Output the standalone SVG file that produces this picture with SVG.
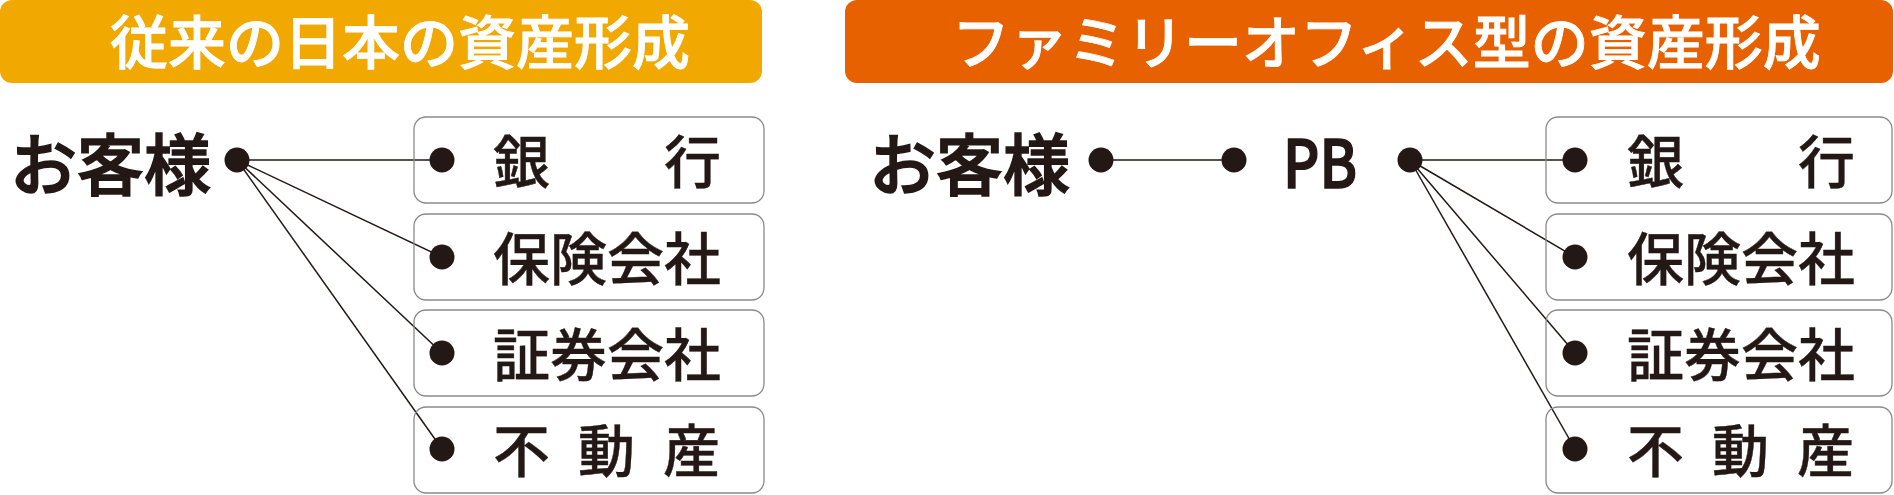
<svg xmlns="http://www.w3.org/2000/svg" width="1894" height="495" viewBox="0 0 1894 495">
<style>
.t{font-family:"Noto Sans CJK JP","Noto Sans",sans-serif;fill:#231815;stroke:#231815;stroke-width:0.4;font-weight:500}
.h{font-family:"Noto Sans CJK JP","Noto Sans",sans-serif;fill:#ffffff;stroke:#ffffff;stroke-width:0.8;font-size:58px;font-weight:500}
.big{font-size:67px;stroke-width:1.6}
.bx{font-size:57px}
.box{fill:none;stroke:#8a8a8a;stroke-width:1.3}
.dot{fill:#231815}
.ln{stroke:#231815;stroke-width:1.5;fill:none}
</style>
<rect width="1894" height="495" fill="#ffffff"/>
<g id="header-left">
<rect x="0" y="0" width="762" height="83" rx="12" fill="#F1A800"/>
<text class="h" x="110" y="64">従来の日本の資産形成</text>
</g>
<g id="header-right">
<rect x="845" y="0" width="1048" height="83" rx="12" fill="#E86100"/>
<text class="h" x="952" y="64">ファミリーオフィス型の資産形成</text>
</g>
<g id="connectors">
<line class="ln" x1="237" y1="160" x2="442" y2="160"/>
<line class="ln" x1="237" y1="160" x2="442" y2="257"/>
<line class="ln" x1="237" y1="160" x2="442" y2="353"/>
<line class="ln" x1="237" y1="160" x2="442" y2="449"/>
<line class="ln" x1="1101" y1="160" x2="1234" y2="160"/>
<line class="ln" x1="1410" y1="160" x2="1575" y2="160"/>
<line class="ln" x1="1410" y1="160" x2="1575" y2="257"/>
<line class="ln" x1="1410" y1="160" x2="1575" y2="353"/>
<line class="ln" x1="1410" y1="160" x2="1575" y2="449"/>
</g>
<g id="client-left">
<text class="t big" x="10" y="190">お客様</text>
<circle class="dot" cx="237" cy="160" r="12.5"/>
</g>
<g id="bank-left">
<rect class="box" x="414" y="117" width="350" height="86" rx="12"/>
<circle class="dot" cx="442" cy="160" r="12.5"/>
<text class="t bx" x="493" y="183">銀　　行</text>
</g>
<g id="insurance-left">
<rect class="box" x="414" y="214" width="350" height="86" rx="12"/>
<circle class="dot" cx="442" cy="257" r="12.5"/>
<text class="t bx" x="493" y="280">保険会社</text>
</g>
<g id="securities-left">
<rect class="box" x="414" y="310" width="350" height="86" rx="12"/>
<circle class="dot" cx="442" cy="353" r="12.5"/>
<text class="t bx" x="493" y="376">証券会社</text>
</g>
<g id="realestate-left">
<rect class="box" x="414" y="407" width="350" height="86" rx="12"/>
<circle class="dot" cx="442" cy="449" r="12.5"/>
<text class="t bx" x="493 550 578 635 663" y="472">不 動 産</text>
</g>
<g id="client-right">
<text class="t big" x="869" y="190">お客様</text>
<circle class="dot" cx="1101" cy="160" r="12.5"/>
</g>
<g id="pb">
<circle class="dot" cx="1234" cy="160" r="12.5"/>
<text class="t big" x="1283" y="188" textLength="74" lengthAdjust="spacingAndGlyphs">PB</text>
<circle class="dot" cx="1410" cy="160" r="12.5"/>
</g>
<g id="bank-right">
<rect class="box" x="1546" y="117" width="346" height="86" rx="12"/>
<circle class="dot" cx="1575" cy="160" r="12.5"/>
<text class="t bx" x="1627" y="183">銀　　行</text>
</g>
<g id="insurance-right">
<rect class="box" x="1546" y="214" width="346" height="86" rx="12"/>
<circle class="dot" cx="1575" cy="257" r="12.5"/>
<text class="t bx" x="1627" y="280">保険会社</text>
</g>
<g id="securities-right">
<rect class="box" x="1546" y="310" width="346" height="86" rx="12"/>
<circle class="dot" cx="1575" cy="353" r="12.5"/>
<text class="t bx" x="1627" y="376">証券会社</text>
</g>
<g id="realestate-right">
<rect class="box" x="1546" y="407" width="346" height="86" rx="12"/>
<circle class="dot" cx="1575" cy="449" r="12.5"/>
<text class="t bx" x="1627 1684 1712 1769 1797" y="472">不 動 産</text>
</g>
</svg>
